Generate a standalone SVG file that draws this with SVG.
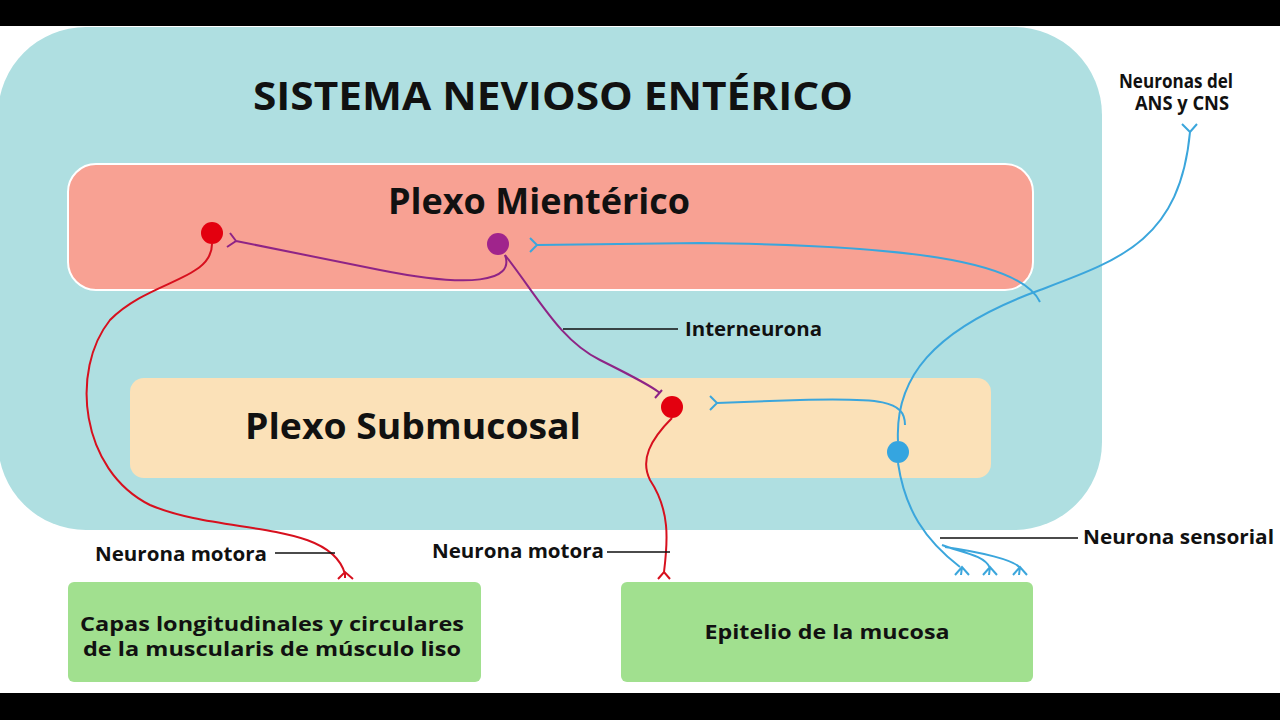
<svg xmlns="http://www.w3.org/2000/svg" width="1280" height="720" viewBox="0 0 1280 720">
<style>
text{font-family:"Open Sans",Lato,sans-serif;font-weight:bold;fill:#111}
.lbl{font-size:19px}
.ax{fill:none;stroke-width:2}
.red{stroke:#d7101e}.pur{stroke:#8e2486}.blu{stroke:#3ba6dc}
.ln{stroke:#111;stroke-width:1.6}
</style>
<rect width="1280" height="720" fill="#fff"/>
<rect x="0" y="0" width="1280" height="26" fill="#000"/>
<rect x="0" y="693" width="1280" height="27" fill="#000"/>
<g id="ens"><rect x="-2" y="27" width="1104" height="503" rx="88" fill="#afdfe1"/>
<text x="553" y="110" font-size="39" text-anchor="middle" textLength="600" lengthAdjust="spacingAndGlyphs">SISTEMA NEVIOSO ENTÉRICO</text></g>
<g id="mienterico"><rect x="68" y="164" width="965" height="126" rx="28" fill="#f8a193" stroke="#fff" stroke-width="2"/>
<text x="539" y="214" font-size="35" text-anchor="middle" textLength="302" lengthAdjust="spacingAndGlyphs">Plexo Mientérico</text></g>
<g id="submucosal"><rect x="130" y="378" width="861" height="100" rx="14" fill="#fbe1b8"/>
<text x="413" y="439" font-size="35" text-anchor="middle" textLength="336" lengthAdjust="spacingAndGlyphs">Plexo Submucosal</text></g>
<g id="capas"><rect x="68" y="582" width="413" height="100" rx="6" fill="#a1e08f"/>
<text x="272" y="631" font-size="20" text-anchor="middle" textLength="384" lengthAdjust="spacingAndGlyphs">Capas  longitudinales y circulares</text>
<text x="272" y="656" font-size="20" text-anchor="middle" textLength="378" lengthAdjust="spacingAndGlyphs">de la muscularis de músculo liso</text></g>
<g id="epitelio"><rect x="621" y="582" width="412" height="100" rx="6" fill="#a1e08f"/>
<text x="827" y="639" font-size="20" text-anchor="middle" textLength="245" lengthAdjust="spacingAndGlyphs">Epitelio de la mucosa</text></g>
<g id="connectors">
<path class="ax red" d="M212,244 C212,280 150,280 110,320 C70,370 80,470 150,505 C220,535 330,520 345,574 M338,579 L345,572 L353,579 M345,572 L345,578"/>
<path class="ax pur" d="M505,255 C515,282 470,288 380,270 L236,241 M230,233 L236,241 L227,247"/>
<path class="ax pur" d="M505,255 C540,300 560,340 600,360 C630,375 650,385 660,393 M655,398 L662,390"/>
<path class="ax red" d="M672,418 C650,440 640,460 650,480 C670,510 668,540 664,572 M658,579 L664,572 L670,579"/>
<path class="ax blu" d="M898,441 C895,380 930,330 1040,290 C1120,260 1180,240 1190,132 M1182,124 L1190,132 L1197,124"/>
<path class="ax blu" d="M1040,302 C1020,260 900,245 700,243 L537,245 M530,238 L537,245 L530,252"/>
<path class="ax blu" d="M905,425 C905,400 880,398 800,400 L717,403 M710,396 L717,403 L710,410"/>
<path class="ax blu" d="M898,463 C905,510 925,540 960,567 M955,575 L962,567 L969,575 M962,567 L961,575 M942,545 C960,552 985,555 990,568 M983,575 L990,567 L997,575 M990,567 L989,575 M945,547 C980,552 1015,560 1020,568 M1013,575 L1020,567 L1027,575 M1020,567 L1019,575"/>
<path class="ln" d="M563,329 H678 M275,553 H335 M607,552 H670 M940,538 H1078"/>
</g>
<g id="labels">
<text class="lbl" x="685" y="336" textLength="137" lengthAdjust="spacingAndGlyphs">Interneurona</text>
<text class="lbl" x="95" y="561" textLength="172" lengthAdjust="spacingAndGlyphs">Neurona motora</text>
<text class="lbl" x="432" y="558" textLength="172" lengthAdjust="spacingAndGlyphs">Neurona motora</text>
<text class="lbl" x="1083" y="544" textLength="191" lengthAdjust="spacingAndGlyphs">Neurona sensorial</text>
<text class="lbl" x="1176" y="88" font-size="18" text-anchor="middle" textLength="114" lengthAdjust="spacingAndGlyphs">Neuronas del</text>
<text class="lbl" x="1182" y="110" font-size="18" text-anchor="middle" textLength="94" lengthAdjust="spacingAndGlyphs">ANS y CNS</text>
</g>
<g id="somas">
<circle cx="212" cy="233" r="11" fill="#e3000f"/>
<circle cx="498" cy="244" r="11" fill="#a0248c"/>
<circle cx="672" cy="407" r="11" fill="#e3000f"/>
<circle cx="898" cy="452" r="11" fill="#35a5e0"/>
</g>
</svg>
